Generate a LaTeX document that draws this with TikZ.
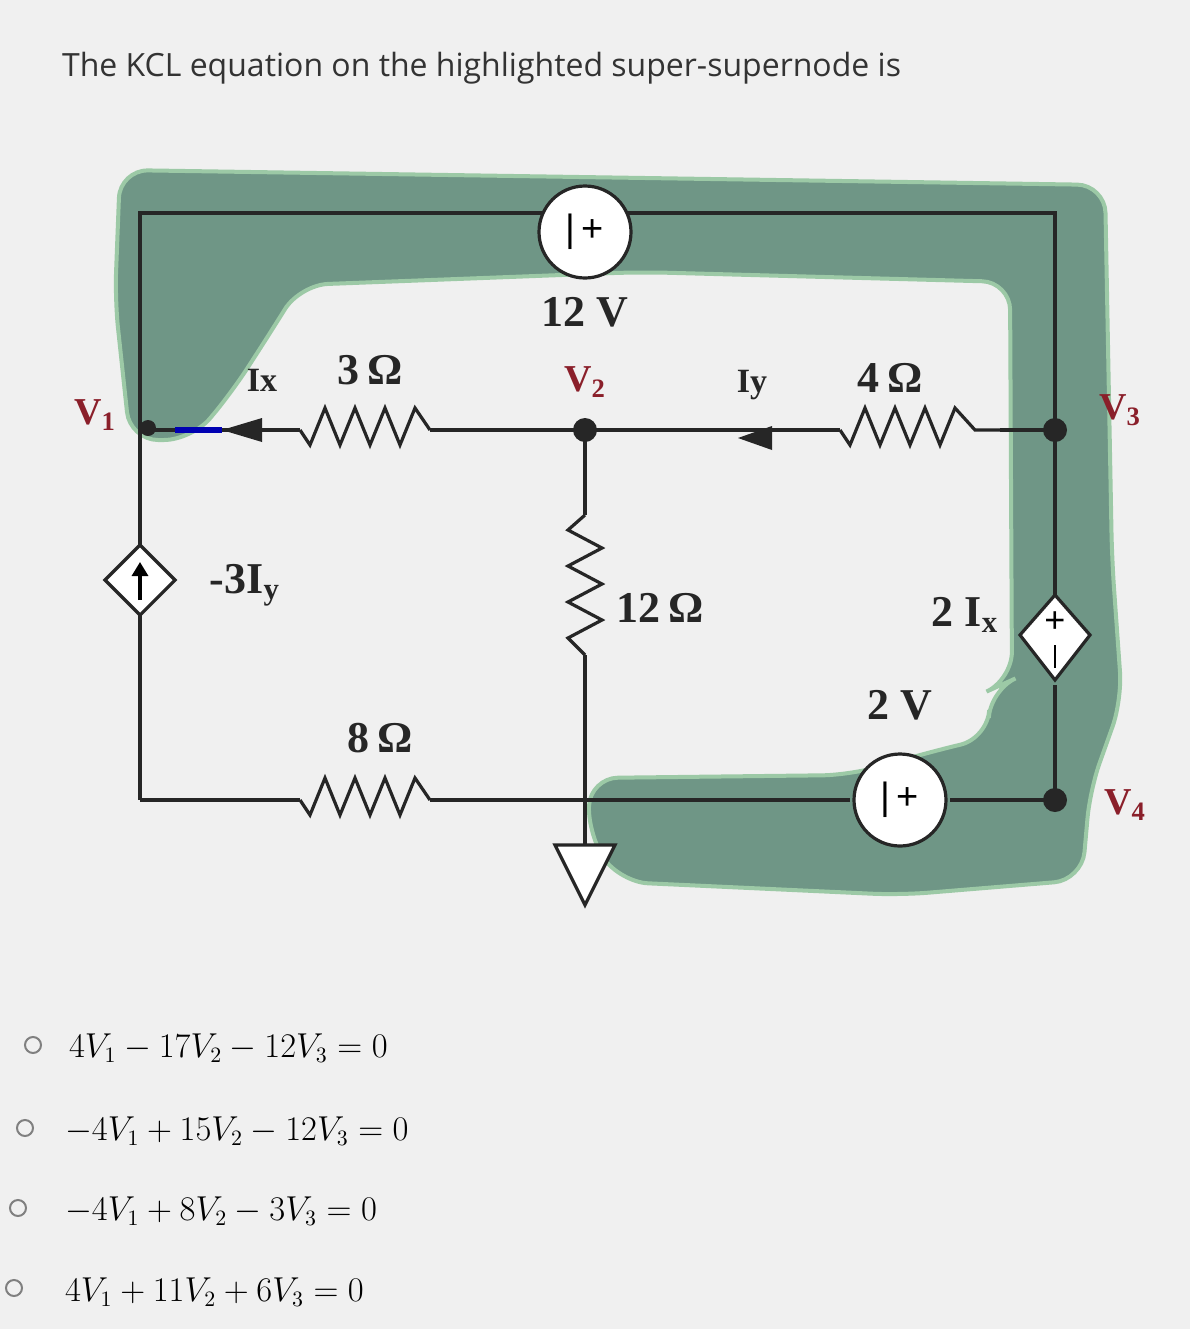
\documentclass[tikz,border=0pt]{standalone}
\usepackage{fontspec}
\setmainfont{Liberation Serif}
\newfontfamily\titlefont{Open Sans}
\newfontfamily\srcfont{Liberation Sans}
\usetikzlibrary{arrows.meta}
\definecolor{hl}{HTML}{6F9686}
\definecolor{hlb}{HTML}{9CC9A6}
\definecolor{vred}{HTML}{8A1F2A}
\begin{document}
\begin{tikzpicture}[x=0.5pt,y=-0.5pt,
  wire/.style={line width=1.6pt,draw=black!85},
  lab/.style={font=\bfseries\fontsize{17}{17}\selectfont,text=black!85},
  big/.style={font=\bfseries\fontsize{22}{22}\selectfont,text=black!85},
  vlab/.style={font=\bfseries\fontsize{19}{19}\selectfont,text=vred},
  eq/.style={anchor=west,font=\fontsize{16}{16}\selectfont},
  opt/.style={circle,draw=black!50,line width=1pt,minimum size=8pt,inner sep=0pt},
  dot/.style={circle,fill=black!85,minimum size=12pt,inner sep=0pt},
  src/.style={circle,draw=black!85,fill=white,line width=1.6pt,minimum size=46pt,inner sep=0pt,font=\srcfont\fontsize{19}{19}\selectfont}]
\fill[black!6] (0,0) rectangle (1190,1329);
\useasboundingbox (0,0) rectangle (1190,1329);
\node[anchor=west,font=\titlefont\fontsize{16}{16}\selectfont,text=black!80] (title) at (55,68) {The KCL equation on the highlighted super-supernode is};
% highlight
\filldraw[fill=hl,draw=hlb,line width=2pt,rounded corners=14pt]
 (120,170) -- (1105,185) -- (1112,560) -- (1122,700) -- (1090,790) -- (1082,880) -- (900,895) -- (620,882) -- (588,835) -- (590,778) -- (850,775) -- (930,752) -- (988,738) -- (990,690) -- (1012,680) -- (1010,282) -- (640,272) -- (300,285) -- (272,330) -- (232,392) -- (192,440) -- (130,440) -- (115,300) -- cycle;
\coordinate (TL) at (140,213); \coordinate (TR) at (1055,213);
\coordinate (BL) at (140,800); \coordinate (BR) at (1055,800);
\coordinate (ML) at (140,430);
\coordinate (G) at (585,800);
% wires
\draw[wire] (ML) -- (TL) -- (TR) -- (1055,430);
\draw[wire] (ML) -- (140,545); \draw[wire] (140,615) -- (BL);
\draw[wire] (BL) -- (300,800); \draw[wire] (430,800) -- (G) -- (850,800);
\draw[wire] (950,800) -- (BR);
\draw[wire] (ML) -- (300,430); \draw[wire] (430,430) -- (840,430); \draw[wire] (1000,430) -- (1055,430);
\draw[wire] (1055,430) -- (1055,615); \draw[wire] (1055,685) -- (BR);
\draw[wire] (585,430) -- (585,515); \draw[wire] (585,655) -- (G) -- (585,845);
% resistors
\draw[wire] (300,430) -- (310,445) -- (325,408) -- (340,445) -- (355,408) -- (370,445) -- (385,408) -- (400,445) -- (415,408) -- (430,430);
\draw[wire] (300,800) -- (310,815) -- (325,778) -- (340,815) -- (355,778) -- (370,815) -- (385,778) -- (400,815) -- (415,778) -- (430,800);
\draw[wire] (840,430) -- (850,445) -- (865,408) -- (880,445) -- (895,408) -- (910,445) -- (925,408) -- (940,445) -- (955,408) -- (975,430) -- (1000,430);
\draw[wire] (585,515) -- (568,530) -- (602,548) -- (568,566) -- (602,584) -- (568,602) -- (602,620) -- (568,638) -- (585,655);
% ground
\draw[wire,fill=white] (555,845) -- (615,845) -- (585,905) -- cycle;
% sources
\node[src] (s12) at (585,232) {|\,+};
\node[src] (s2) at (900,800) {|\,+};
\draw[wire,fill=white] (140,545) -- (175,580) -- (140,615) -- (105,580) -- cycle;
\draw[line width=1.6pt,-{Triangle[length=7pt,width=8pt]}] (140,600) -- (140,562);
\draw[wire,fill=white] (1055,595) -- (1090,635) -- (1055,680) -- (1020,635) -- cycle;
\node[font=\srcfont\fontsize{18}{18}\selectfont] (pl) at (1055,622) {+};
\draw[line width=1.4pt] (1055,645) -- (1055,668);
% current arrows
\fill[black!85] (222,430) -- (262,418) -- (262,442) -- cycle;
\fill[black!85] (738,438) -- (772,426) -- (772,450) -- cycle;
\draw[line width=3pt,blue!70!black] (175,430) -- (222,430);
% dots
\node[dot] (v2d) at (585,430) {};
\node[dot] (v3d) at (1055,430) {};
\node[dot] (v4d) at (1055,800) {};
\node[circle,fill=black!85,minimum size=8pt,inner sep=0pt] (v1d) at (148,428) {};
% labels
\node[vlab] (V1) at (95,415) {V\textsubscript{1}};
\node[vlab] (V2) at (585,382) {V\textsubscript{2}};
\node[vlab] (V3) at (1120,410) {V\textsubscript{3}};
\node[vlab] (V4) at (1125,805) {V\textsubscript{4}};
\node[big] (l12) at (585,312) {12 V};
\node[lab] (lix) at (262,380) {Ix};
\node[big] (l3) at (370,370) {3\,Ω};
\node[lab] (liy) at (752,385) {Iy};
\node[big] (l4) at (890,378) {4\,Ω};
\node[big] (l8) at (380,738) {8\,Ω};
\node[big] (l12o) at (660,608) {12\,Ω};
\node[big] (l3iy) at (245,585) {-3I\textsubscript{y}};
\node[big] (l2ix) at (965,615) {2 I\textsubscript{x}};
\node[big] (l2v) at (900,705) {2 V};
% options
\node[opt] (o1) at (33,1045) {}; \node[eq] (e1) at (62,1048) {$4V_1-17V_2-12V_3=0$};
\node[opt] (o2) at (25,1128) {}; \node[eq] (e2) at (58,1131) {$-4V_1+15V_2-12V_3=0$};
\node[opt] (o3) at (18,1208) {}; \node[eq] (e3) at (58,1211) {$-4V_1+8V_2-3V_3=0$};
\node[opt] (o4) at (14,1288) {}; \node[eq] (e4) at (58,1292) {$4V_1+11V_2+6V_3=0$};
\end{tikzpicture}
\end{document}
